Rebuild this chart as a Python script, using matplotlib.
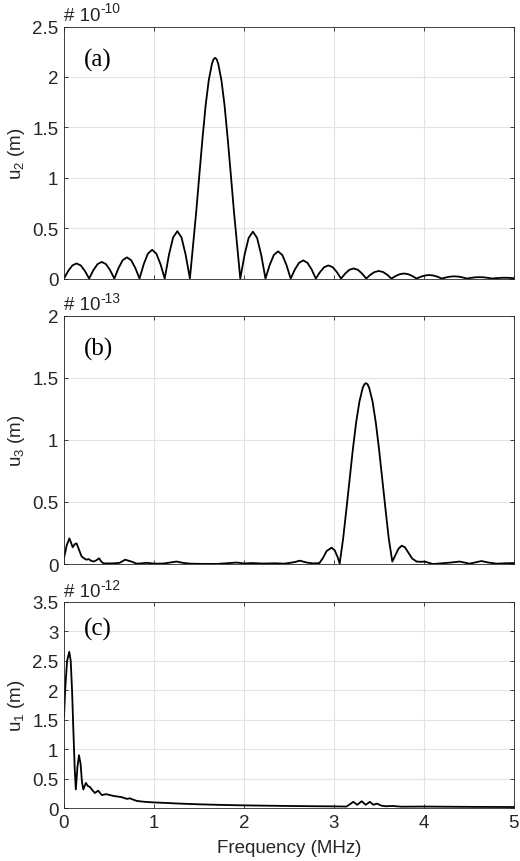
import matplotlib
matplotlib.use("Agg")
import matplotlib.pyplot as plt

# ---- data (freq in MHz) ----
freq_a = [0.000, 0.047, 0.093, 0.140, 0.187, 0.233,
          0.280, 0.327, 0.373, 0.420, 0.467, 0.513,
          0.560, 0.607, 0.653, 0.700, 0.747, 0.793,
          0.840, 0.887, 0.933, 0.980, 1.027, 1.073,
          1.120, 1.167, 1.213, 1.260, 1.307, 1.353,
          1.400, 1.435, 1.470, 1.505, 1.540, 1.575, 1.610, 1.645, 1.662, 1.680,
          1.698, 1.715, 1.750, 1.785, 1.820, 1.855, 1.890, 1.925,
          1.960, 2.007, 2.053, 2.100, 2.147, 2.193,
          2.240, 2.287, 2.333, 2.380, 2.427, 2.473,
          2.520, 2.567, 2.613, 2.660, 2.707, 2.753,
          2.800, 2.847, 2.893, 2.940, 2.987, 3.033,
          3.080, 3.127, 3.173, 3.220, 3.267, 3.313,
          3.360, 3.407, 3.453, 3.500, 3.547, 3.593,
          3.640, 3.687, 3.733, 3.780, 3.827, 3.873,
          3.920, 3.967, 4.013, 4.060, 4.107, 4.153,
          4.200, 4.247, 4.293, 4.340, 4.387, 4.433,
          4.480, 4.527, 4.573, 4.620, 4.667, 4.713,
          4.760, 4.807, 4.853, 4.900, 4.947, 5.000]
u2 = [0.000, 0.075, 0.130, 0.150, 0.130, 0.075,
      0.000, 0.083, 0.143, 0.165, 0.143, 0.083,
      0.000, 0.105, 0.182, 0.210, 0.182, 0.105,
      0.000, 0.143, 0.247, 0.285, 0.247, 0.143,
      0.000, 0.235, 0.407, 0.470, 0.407, 0.235,
      0.000, 0.330, 0.660, 1.030, 1.390, 1.720, 1.970, 2.130, 2.175, 2.190,
      2.175, 2.130, 1.970, 1.720, 1.390, 1.030, 0.660, 0.330,
      0.000, 0.233, 0.403, 0.465, 0.403, 0.233,
      0.000, 0.135, 0.234, 0.270, 0.234, 0.135,
      0.000, 0.090, 0.156, 0.180, 0.156, 0.090,
      0.000, 0.065, 0.113, 0.130, 0.113, 0.065,
      0.000, 0.050, 0.087, 0.100, 0.087, 0.050,
      0.000, 0.038, 0.065, 0.075, 0.065, 0.038,
      0.000, 0.025, 0.043, 0.050, 0.043, 0.025,
      0.000, 0.018, 0.030, 0.035, 0.030, 0.018,
      0.000, 0.011, 0.019, 0.022, 0.019, 0.011,
      0.000, 0.007, 0.012, 0.014, 0.012, 0.007,
      0.000, 0.004, 0.007, 0.008, 0.007, 0.003]

freq_b = [0.000, 0.030, 0.060, 0.080, 0.097, 0.120, 0.140, 0.170, 0.196, 0.225,
          0.250, 0.275, 0.300, 0.330, 0.360, 0.390, 0.415, 0.440, 0.500, 0.560,
          0.620, 0.680, 0.750, 0.810, 0.870, 0.920, 1.010, 1.100, 1.180, 1.250,
          1.320, 1.400, 1.550, 1.700, 1.840, 1.920, 2.000, 2.100, 2.200, 2.350,
          2.450, 2.560, 2.620, 2.700, 2.770, 2.840, 2.880, 2.920, 2.975, 3.010,
          3.040, 3.065, 3.103, 3.139, 3.176, 3.212, 3.248, 3.285, 3.321, 3.339,
          3.357, 3.375, 3.393, 3.430, 3.466, 3.502, 3.538, 3.575, 3.611, 3.650,
          3.690, 3.720, 3.755, 3.790, 3.830, 3.870, 3.920, 3.970, 4.010, 4.100,
          4.200, 4.300, 4.400, 4.510, 4.640, 4.720, 4.810, 4.900, 5.000]
u3 = [0.046, 0.150, 0.207, 0.170, 0.135, 0.160, 0.167, 0.110, 0.062, 0.045,
      0.035, 0.040, 0.027, 0.020, 0.030, 0.046, 0.020, 0.005, 0.005, 0.006,
      0.010, 0.035, 0.020, 0.003, 0.006, 0.010, 0.003, 0.004, 0.012, 0.020,
      0.010, 0.003, 0.001, 0.001, 0.008, 0.012, 0.005, 0.008, 0.004, 0.006,
      0.003, 0.015, 0.027, 0.012, 0.005, 0.008, 0.050, 0.105, 0.132, 0.110,
      0.060, 0.005, 0.203, 0.437, 0.686, 0.928, 1.142, 1.311, 1.419, 1.448,
      1.457, 1.448, 1.419, 1.311, 1.142, 0.928, 0.686, 0.437, 0.203, 0.020,
      0.080, 0.125, 0.148, 0.135, 0.090, 0.045, 0.020, 0.018, 0.020, 0.000,
      0.006, 0.012, 0.020, 0.003, 0.024, 0.012, 0.003, 0.006, 0.008]

freq_c = [0.000, 0.015, 0.035, 0.059, 0.075, 0.090, 0.105, 0.120, 0.132, 0.150,
          0.167, 0.185, 0.200, 0.215, 0.244, 0.265, 0.290, 0.320, 0.344, 0.380,
          0.420, 0.470, 0.550, 0.640, 0.700, 0.730, 0.810, 0.900, 1.000, 1.150,
          1.290, 1.500, 1.750, 2.000, 2.250, 2.500, 2.750, 3.000, 3.140, 3.180,
          3.215, 3.260, 3.310, 3.355, 3.400, 3.440, 3.480, 3.530, 3.580, 3.650,
          3.750, 4.000, 4.500, 5.000]
u1 = [1.54, 2.05, 2.50, 2.65, 2.50, 2.00, 1.30, 0.65, 0.32, 0.70,
      0.90, 0.75, 0.45, 0.32, 0.43, 0.38, 0.36, 0.30, 0.26, 0.30,
      0.225, 0.24, 0.21, 0.19, 0.16, 0.17, 0.125, 0.11, 0.10, 0.09,
      0.08, 0.068, 0.058, 0.050, 0.045, 0.040, 0.036, 0.033, 0.030, 0.070,
      0.110, 0.060, 0.120, 0.060, 0.110, 0.060, 0.080, 0.045, 0.035, 0.040,
      0.028, 0.030, 0.025, 0.022]

panels = [
    (freq_a, u2, "u$_2$ (m)", "(a)", 2.5, [0, 0.5, 1, 1.5, 2, 2.5], "-10"),
    (freq_b, u3, "u$_3$ (m)", "(b)", 2.0, [0, 0.5, 1, 1.5, 2], "-13"),
    (freq_c, u1, "u$_1$ (m)", "(c)", 3.5, [0, 0.5, 1, 1.5, 2, 2.5, 3, 3.5], "-12"),
]
xticks = [0, 1, 2, 3, 4, 5]

# axes boxes in figure fractions [left, bottom, width, height]
boxes = [[0.123, 0.6757, 0.865, 0.2923],
         [0.123, 0.3445, 0.865, 0.2880],
         [0.123, 0.0611, 0.865, 0.2397]]

plt.rcParams['font.family'] = ['Liberation Sans', 'DejaVu Sans']
plt.rcParams['mathtext.fontset'] = 'custom'
plt.rcParams['mathtext.rm'] = 'Liberation Sans'
plt.rcParams['mathtext.it'] = 'Liberation Sans'
fig = plt.figure(figsize=(5.2, 8.62), dpi=100)
dark = '#262626'
fs = 13.5

for i, (f, u, ylab, tag, ymax, yt, expo) in enumerate(panels):
    ax = fig.add_axes(boxes[i])
    ax.plot(f, u, color='black', lw=1.3)
    ax.set_xlim(0, 5)
    ax.set_ylim(0, ymax)
    ax.set_xticks(xticks)
    ax.set_yticks(yt)
    ax.set_yticklabels(['%g' % v for v in yt])
    if i == 2:
        ax.set_xticklabels([str(v) for v in xticks])
        ax.set_xlabel('Frequency (MHz)', fontsize=fs, color=dark, labelpad=6)
    else:
        ax.set_xticklabels([])
    ax.grid(True, color='#e3e3e3', lw=0.8)
    ax.set_axisbelow(True)
    ax.tick_params(direction='in', length=3, width=0.6, colors=dark,
                   labelsize=fs, top=True, right=True, pad=4)
    for s in ax.spines.values():
        s.set_color(dark)
        s.set_linewidth(0.6)
    ax.set_ylabel(ylab, fontsize=fs, color=dark, labelpad=4)
    ax.text(0.045, 0.87, tag, transform=ax.transAxes, fontsize=18,
            family='Liberation Serif', va='center', ha='left')
    # MATLAB-style exponent label above the axes
    ax.text(0.0, 1.01, '# 10', transform=ax.transAxes,
            fontsize=fs, color=dark, va='bottom', ha='left')
    ax.text(0.082, 1.045, expo, transform=ax.transAxes,
            fontsize=10, color=dark, va='bottom', ha='left')

fig.savefig('out.png', dpi=100)
